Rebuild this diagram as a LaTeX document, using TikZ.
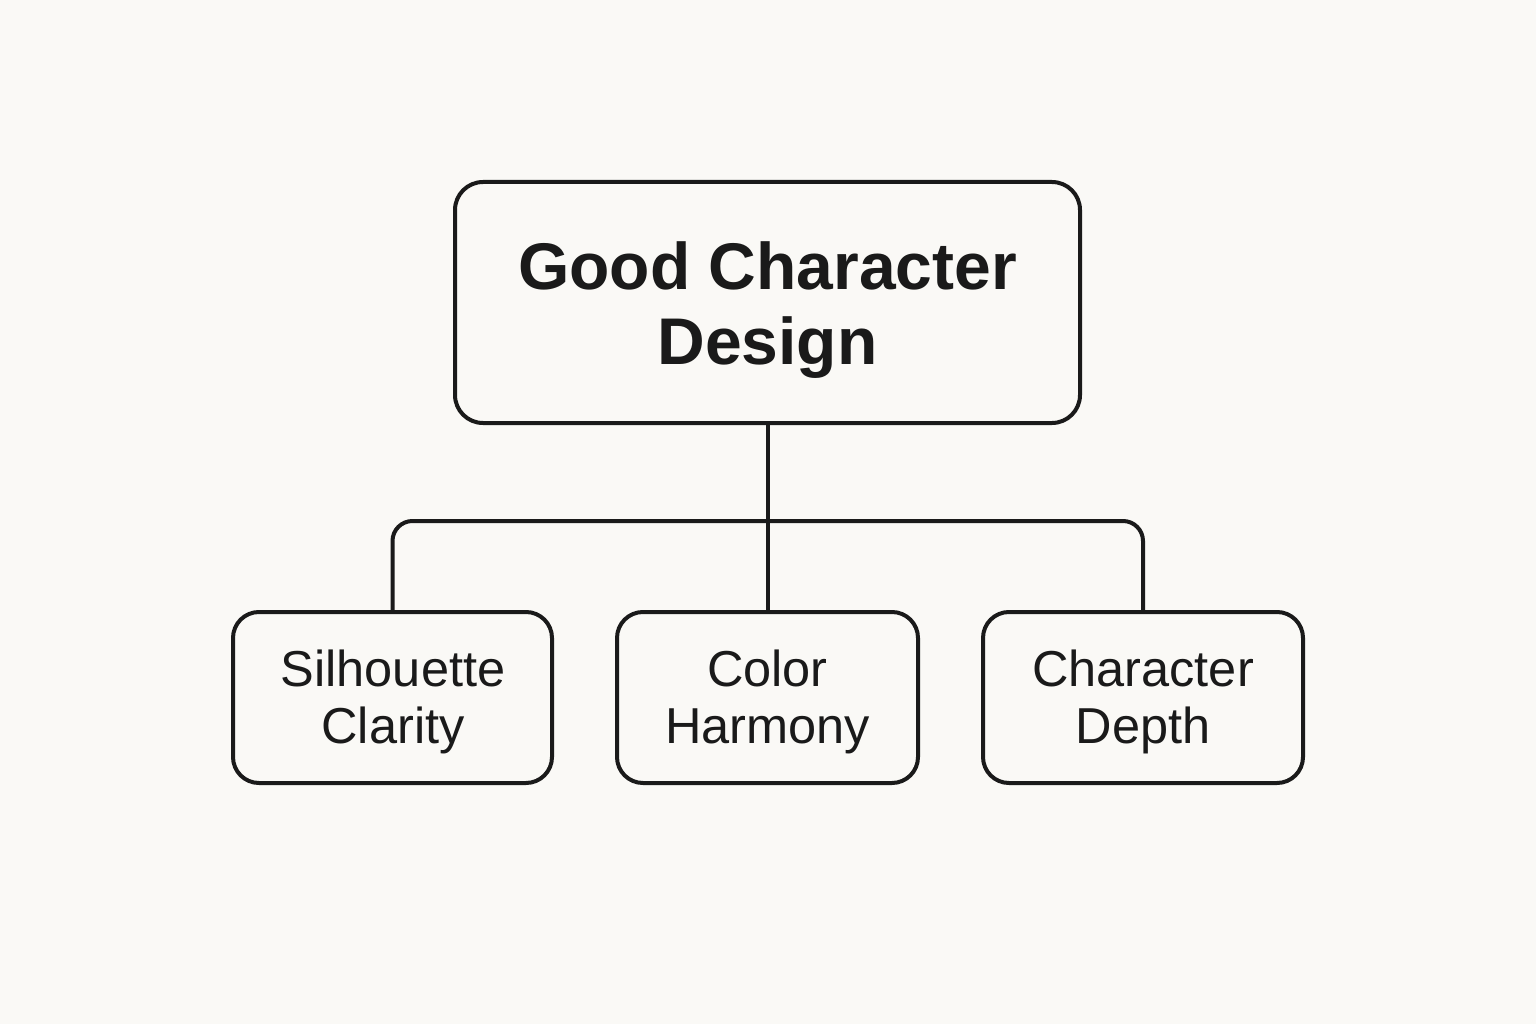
\documentclass[tikz,border=0pt]{standalone}
\usepackage{fontspec}
\setmainfont{Liberation Sans}
\definecolor{bg}{HTML}{FAF9F6}
\definecolor{ink}{HTML}{1A1A1A}
\begin{document}
\begin{tikzpicture}[x=1pt,y=-1pt,
  box/.style={draw=ink,line width=4pt,rounded corners=28pt,inner sep=0pt,outer sep=0pt,rectangle},
  subbox/.style={box,minimum width=319pt,minimum height=171pt,rounded corners=26pt},
  conn/.style={draw=ink,line width=4pt,rounded corners=20pt},
  toptext/.style={font=\fontsize{66}{75}\selectfont\bfseries,text=ink,align=center},
  subtext/.style={font=\fontsize{50.5}{57}\selectfont,text=ink,align=center}]
\fill[bg] (0,0) rectangle (1536,1024);
\useasboundingbox (0,0) rectangle (1536,1024);
% top
\node[box,minimum width=625pt,minimum height=241pt] (top) at (767.5,302.5) {};
\node[toptext] (toplbl) at (767.5,310) {Good Character\\Design};
% bottom boxes
\node[subbox] (c1) at (392.5,697.5) {};
\node[subbox,minimum width=301pt] (c2) at (767.5,697.5) {};
\node[subbox,minimum width=320pt] (c3) at (1143,697.5) {};
\node[subtext] (s1) at (393,701.5) {Silhouette\\Clarity};
\node[subtext] (s2) at (767.5,701.5) {Color\\Harmony};
\node[subtext] (s3) at (1143,701.5) {Character\\Depth};
\coordinate (bar) at (767.5,521);
% connectors
\draw[conn] (top.south) -- (c2.north);
\draw[conn] (c1.north) |- (bar) -| (c3.north);
\end{tikzpicture}
\end{document}
